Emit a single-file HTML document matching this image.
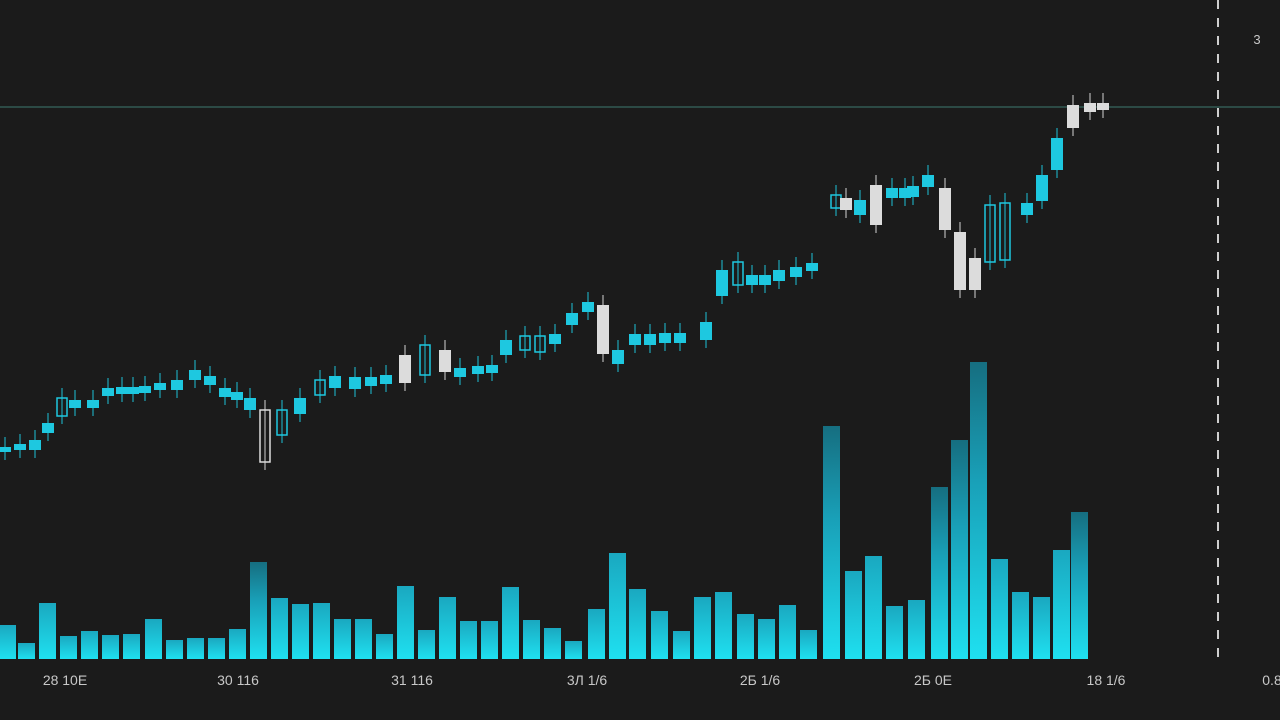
<!DOCTYPE html>
<html><head><meta charset="utf-8"><style>
html,body{margin:0;padding:0;background:#1b1b1b;width:1280px;height:720px;overflow:hidden}
svg{display:block}
text{font-family:"Liberation Sans",sans-serif;font-size:14px;fill:#c8c8c8;text-anchor:middle}
</style></head><body>
<svg width="1280" height="720" viewBox="0 0 1280 720" xmlns="http://www.w3.org/2000/svg">
<defs>
<linearGradient id="g" x1="0" y1="0" x2="0" y2="1"><stop offset="0" stop-color="#1aa8c0"/><stop offset="1" stop-color="#1fe0f0"/></linearGradient>
<linearGradient id="gt" x1="0" y1="0" x2="0" y2="1"><stop offset="0" stop-color="#166e80"/><stop offset="0.4" stop-color="#19a0b8"/><stop offset="1" stop-color="#1fe0f0"/></linearGradient>
</defs>
<rect width="1280" height="720" fill="#1b1b1b"/>
<line x1="0" y1="107" x2="1280" y2="107" stroke="#2c4a45" stroke-width="2"/>
<line x1="1218" y1="0" x2="1218" y2="665" stroke="#cfcfcf" stroke-width="2" stroke-dasharray="9,9"/>
<text x="1257" y="44" style="font-size:13px">3</text>
<g id="bars"></g>
<g id="candles"></g>
<g>
<text x="65" y="685">28 10E</text>
<text x="238" y="685">30 116</text>
<text x="412" y="685">31 116</text>
<text x="587" y="685">3Л 1/6</text>
<text x="760" y="685">2Б 1/6</text>
<text x="933" y="685">2Б 0Е</text>
<text x="1106" y="685">18 1/6</text>
<text x="1272" y="685">0.8</text>
</g>
</svg>
<script>
var ns="http://www.w3.org/2000/svg";
function el(p,t,a){var e=document.createElementNS(ns,t);for(var k in a)e.setAttribute(k,a[k]);p.appendChild(e);return e;}
var B=document.getElementById("bars");
var bars=[[8,625],[27,643],[48,603],[69,636],[90,631],[111,635],[132,634],[154,619],[175,640],[196,638],[217,638],[238,629],[259,562],[280,598],[301,604],[322,603],[343,619],[364,619],[385,634],[406,586],[427,630],[448,597],[469,621],[490,621],[511,587],[532,620],[553,628],[574,641],[597,609],[618,553],[638,589],[660,611],[682,631],[703,597],[724,592],[746,614],[767,619],[788,605],[809,630],[832,426],[854,571],[874,556],[895,606],[917,600],[940,487],[960,440],[979,362],[1000,559],[1021,592],[1042,597],[1062,550],[1080,512]];
bars.forEach(function(b){var h=659-b[1];el(B,"rect",{x:b[0]-9,y:b[1],width:17,height:h,fill:h>150||b[0]==259||b[0]==1080?"url(#gt)":"url(#g)"});});
var C=document.getElementById("candles");
var cy="#1ec8e0",wh="#dcdcdc";
var cs=[[5,447,452,0],[20,444,450,0],[35,440,450,0],[48,423,433,0],[62,398,416,2],[75,400,408,0],[93,400,408,0],[108,388,396,0],[122,387,394,0],[133,387,394,0],[145,386,393,0],[160,383,390,0],[177,380,390,0],[195,370,380,0],[210,376,385,0],[225,388,397,0],[237,392,400,0],[250,398,410,0],[265,410,462,3],[282,410,435,2],[300,398,414,0],[320,380,395,2],[335,376,388,0],[355,377,389,0],[371,377,386,0],[386,375,384,0],[405,355,383,1],[425,345,375,2],[445,350,372,1],[460,368,377,0],[478,366,374,0],[492,365,373,0],[506,340,355,0],[525,336,350,2],[540,336,352,2],[555,334,344,0],[572,313,325,0],[588,302,312,0],[603,305,354,1],[618,350,364,0],[635,334,345,0],[650,334,345,0],[665,333,343,0],[680,333,343,0],[706,322,340,0],[722,270,296,0],[738,262,285,2],[752,275,285,0],[765,275,285,0],[779,270,281,0],[796,267,277,0],[812,263,271,0],[836,195,208,2],[846,198,210,1],[860,200,215,0],[876,185,225,1],[892,188,198,0],[905,188,198,0],[913,186,197,0],[928,175,187,0],[945,188,230,1],[960,232,290,1],[975,258,290,1],[990,205,262,2],[1005,203,260,2],[1027,203,215,0],[1042,175,201,0],[1057,138,170,0],[1073,105,128,1],[1090,103,112,1],[1103,103,110,1]];
cs.forEach(function(c){var col=(c[3]==1||c[3]==3)?wh:cy;
el(C,"line",{x1:c[0],y1:c[1]-10,x2:c[0],y2:c[2]+8,stroke:col,"stroke-width":1.2,opacity:0.8});
if(c[3]>=2)el(C,"rect",{x:c[0]-5,y:c[1],width:10,height:c[2]-c[1],fill:"none",stroke:col,"stroke-width":1.5});
else el(C,"rect",{x:c[0]-6,y:c[1],width:12,height:c[2]-c[1],fill:col});});
</script>
</body></html>
